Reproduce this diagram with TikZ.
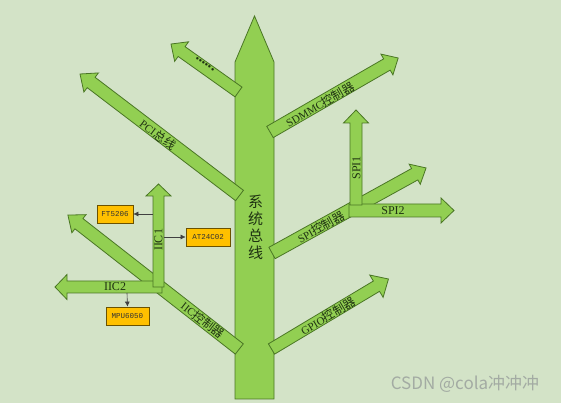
\documentclass[tikz,border=0pt]{standalone}
\usepackage{fontspec}
\setmainfont{Liberation Serif}
\newfontfamily\cjk{Noto Sans CJK SC}
\newfontfamily\boxfont{Liberation Mono}
\newfontfamily\wmfont{Noto Sans CJK SC}
\newcommand\zh[1]{{\cjk\fontsize{12}{12}\selectfont #1}}
\definecolor{bg}{HTML}{D3E3C7}
\definecolor{gfill}{HTML}{92CF52}
\definecolor{gline}{HTML}{4A7624}
\definecolor{txt}{HTML}{1F3312}
\definecolor{boxfill}{HTML}{FFC000}
\definecolor{boxline}{HTML}{6B5200}
\definecolor{wm}{HTML}{A3ABA3}
\usetikzlibrary{arrows.meta}
% base x, base y, angle, length, half shaft, half head, head length
\newcommand\garrow[7]{%
  \begin{scope}[shift={(#1,#2)},rotate=#3]
    \draw[branch] (0,-#5) -- (#4-#7,-#5) -- (#4-#7,-#6) -- (#4,0)
      -- (#4-#7,#6) -- (#4-#7,#5) -- (0,#5) -- cycle;
  \end{scope}}
\tikzset{
  branch/.style={fill=gfill, draw=gline, line width=0.8pt, line join=miter},
  lbl/.style={text=txt, inner sep=0pt, font=\fontsize{11}{11}\selectfont},
  chip/.style={fill=boxfill, draw=boxline, line width=0.7pt, minimum height=18pt,
    inner sep=0pt, text=black!80, font=\boxfont\fontsize{7.5}{7.5}\selectfont},
  feed/.style={draw=black!75, line width=0.6pt, -{Latex[length=5pt,width=5pt]}}
}
\begin{document}
\begin{tikzpicture}[x=1pt,y=1pt]
\useasboundingbox (0,0) rectangle (561,403);
\fill[bg] (0,0) rectangle (561,403);
% trunk
\draw[branch] (235,4) -- (235,341) -- (254.5,387) -- (274,341) -- (274,4) -- cycle;
% left branches
\garrow{238.5}{311}{144.6}{82.8}{6}{12}{13}
\garrow{239.5}{207.5}{142.7}{200.5}{6.5}{12}{14}
\garrow{239.3}{54}{142}{217.5}{6.5}{11.5}{14}
\garrow{162}{116}{180}{107}{6}{12.5}{12}
\garrow{158.5}{116}{90}{103}{5.5}{12.5}{12}
% right branches
\garrow{270}{271}{30}{148}{6.5}{12}{13}
\garrow{272}{150}{28.9}{176}{6.5}{11.5}{13}
\garrow{349}{192.5}{0}{105}{6.5}{12.5}{13}
\garrow{356}{198}{90}{95}{6}{12.5}{13}
\garrow{271.5}{54}{30.9}{136.3}{6}{13}{14}
% labels
\node[lbl, rotate=-35.4, font=\bfseries\fontsize{15}{15}\selectfont] (ldots) at (205,339) {......};
\node[lbl, rotate=-37.3] (lpci) at (158,268.5) {PCI\zh{总线}};
\node[lbl, rotate=-38] (liic) at (203,83) {IIC\zh{控制器}};
\node[lbl, font=\fontsize{12}{12}\selectfont] (liic2) at (115,116) {IIC2};
\node[lbl, rotate=90, font=\fontsize{12}{12}\selectfont] (liic1) at (158.5,163) {IIC1};
\node[lbl, rotate=30] (lsdmmc) at (320,298.5) {SDMMC\zh{控制器}};
\node[lbl, rotate=29] (lspi) at (321,176) {SPI\zh{控制器}};
\node[lbl, rotate=90, font=\fontsize{12}{12}\selectfont] (lspi1) at (356.5,235) {SPI1};
\node[lbl, font=\fontsize{12}{12}\selectfont] (lspi2) at (393,192) {SPI2};
\node[lbl, rotate=31] (lgpio) at (328,87) {GPIO\zh{控制器}};
\node[lbl, align=center, font=\cjk\fontsize{15}{17}\selectfont] (ltrunk) at (255.5,176) {系\\统\\总\\线};
% chips
\node[chip, minimum width=36pt] (ft) at (115,189) {FT5206};
\node[chip, minimum width=44pt] (at) at (208,166) {AT24C02};
\node[chip, minimum width=43pt] (mpu) at (127.5,87) {MPU6050};
\coordinate (iicL) at (153,189);
\coordinate (iicR) at (164,166);
\coordinate (iicB) at (127,110);
\draw[feed] (iicL) -- (ft.east);
\draw[feed] (iicR) -- (at.west);
\draw[feed] (iicB) -- (mpu.north);
% watermark
\node[text=wm, font=\wmfont\fontsize{17}{17}\selectfont, inner sep=0pt] (wmark) at (465,19) {CSDN @cola冲冲冲};
\end{tikzpicture}
\end{document}
